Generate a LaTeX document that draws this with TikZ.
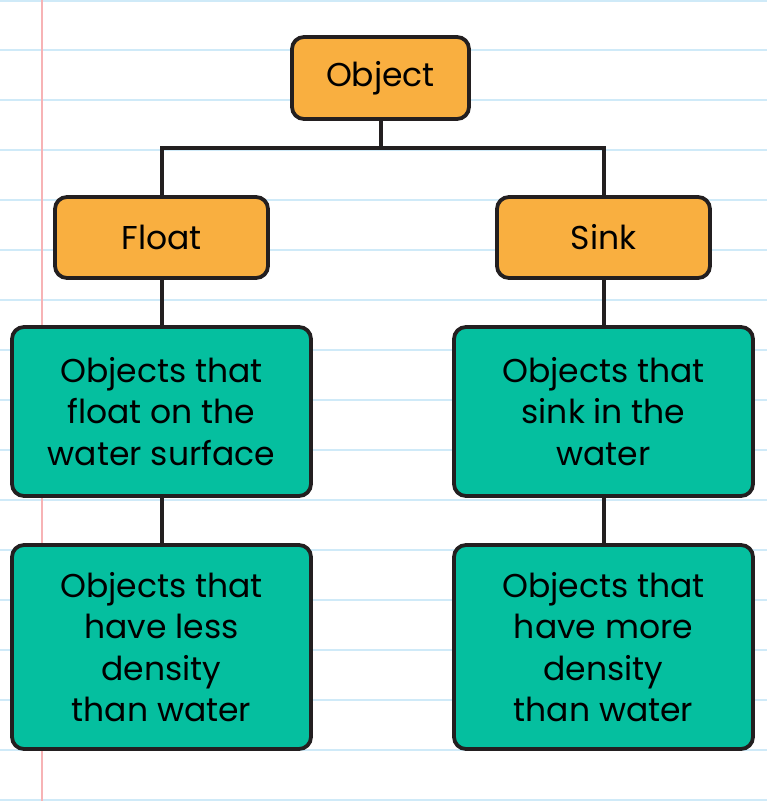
\documentclass[tikz,border=0pt]{standalone}
\usepackage{fontspec}
\setmainfont{Poppins}
\definecolor{orangebox}{HTML}{F9AF40}
\definecolor{greenbox}{HTML}{05BF9F}
\definecolor{edgedark}{HTML}{231F20}
\definecolor{ruleblue}{HTML}{CFEAF8}
\definecolor{rulered}{HTML}{F7B3B5}
\tikzset{
  box/.style={draw=edgedark, line width=3.8pt, rounded corners=12pt, align=center, inner sep=0pt,
    font=\fontsize{33}{41.5}\selectfont, text=black},
  obox/.style={box, fill=orangebox},
  gbox/.style={box, fill=greenbox},
  link/.style={draw=edgedark, line width=4pt},
}
\begin{document}
\begin{tikzpicture}[x=1pt,y=-1pt]
\useasboundingbox (0,0) rectangle (767,801);
\fill[white] (0,0) rectangle (767,801);
\foreach \yy in {1,50,100,...,800} \draw[ruleblue, line width=2pt] (0,\yy) -- (767,\yy);
\draw[rulered, line width=2pt] (41.5,0) -- (41.5,801);

\node[obox, minimum width=177pt, minimum height=82pt] (obj) at (380.5,78) {Object};
\node[obox, minimum width=213pt, minimum height=81pt] (fl) at (161.5,237.5) {Float};
\node[obox, minimum width=213pt, minimum height=81pt] (sk) at (603.5,237.5) {Sink};
\node[gbox, minimum width=299pt, minimum height=169pt] (fl1) at (161.5,411.5) {Objects that\\float on the\\water surface};
\node[gbox, minimum width=299pt, minimum height=169pt] (sk1) at (603.5,411.5) {Objects that\\sink in the\\water};
\node[gbox, minimum width=299pt, minimum height=204pt] (fl2) at (161.5,647) {Objects that\\have less\\density\\than water};
\node[gbox, minimum width=299pt, minimum height=204pt] (sk2) at (603.5,647) {Objects that\\have more\\density\\than water};

\coordinate (j) at (380.5,148);
\path[link] (obj.south) -- (j);
\path[link] (fl.north) |- (j) -| (sk.north);
\path[link] (fl.south) -- (fl1.north);
\path[link] (sk.south) -- (sk1.north);
\path[link] (fl1.south) -- (fl2.north);
\path[link] (sk1.south) -- (sk2.north);
\end{tikzpicture}
\end{document}
